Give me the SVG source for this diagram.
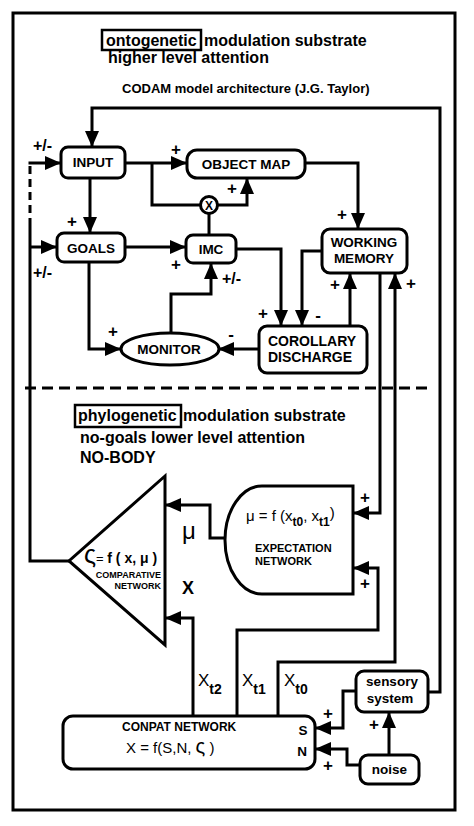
<svg xmlns="http://www.w3.org/2000/svg" width="474" height="826" viewBox="0 0 474 826">
<defs>
<marker id="ah" markerUnits="userSpaceOnUse" markerWidth="17" markerHeight="15" refX="16" refY="7" orient="auto"><path d="M0,0 L16,7 L0,14 Z" fill="#000"/></marker>
</defs>
<style>
text{font-family:"Liberation Sans",Arial,sans-serif;fill:#000}
.b{font-weight:bold}
.h{font-size:16px;font-weight:bold}
.lbl{font-size:13.5px;font-weight:bold;text-anchor:middle}
.sg{font-size:17px;font-weight:bold;text-anchor:middle}
.pm{font-size:16px;font-weight:bold}
.node{fill:#fff;stroke:#000;stroke-width:3}
.ln{fill:none;stroke:#000;stroke-width:3}
.ar{marker-end:url(#ah)}
.sm{font-size:11px;font-weight:bold}
</style>
<rect width="474" height="826" fill="#fff"/>
<rect x="13" y="13" width="442" height="797" fill="none" stroke="#000" stroke-width="3"/>

<g id="headings">
<rect x="102" y="30" width="99" height="20" fill="none" stroke="#000" stroke-width="2.5"/>
<text x="106" y="46" class="h">ontogenetic</text>
<text x="204" y="46" class="h">modulation substrate</text>
<text x="108" y="63" class="h">higher level attention</text>
<text x="122" y="93" font-size="13" class="b">CODAM model architecture (J.G. Taylor)</text>
<rect x="75" y="405" width="106" height="22" fill="none" stroke="#000" stroke-width="2.5"/>
<text x="78" y="421" class="h">phylogenetic</text>
<text x="183" y="421" class="h">modulation substrate</text>
<text x="80" y="443" class="h">no-goals lower level attention</text>
<text x="80" y="463" class="h">NO-BODY</text>
</g>

<line x1="25" y1="388" x2="428" y2="388" stroke="#000" stroke-width="3" stroke-dasharray="11,6"/>

<g id="connectors">
<path class="ln ar" d="M428,692 H440 V108 H92 V147"/>
<path class="ln" d="M69,561 H30 V226"/>
<path class="ln" d="M30,226 V166" stroke-dasharray="8,5"/>
<path class="ln ar" d="M28.5,163 H61"/>
<path class="ln ar" d="M30,247 H57"/>
<path class="ln ar" d="M90,178 V233"/>
<path class="ln ar" d="M125,163 H187"/>
<path class="ln" d="M152,163 V205 H200"/>
<path class="ln ar" d="M218,205 H247 V178"/>
<path class="ln" d="M209,235 V214"/>
<path class="ln ar" d="M125,247 H186"/>
<path class="ln ar" d="M305,163 H358 V229"/>
<path class="ln ar" d="M236,249 H281 V326"/>
<path class="ln ar" d="M322,251 H302 V326"/>
<path class="ln ar" d="M350,326 V273"/>
<path class="ln ar" d="M259,349 H218"/>
<path class="ln ar" d="M89,262 V349 H121"/>
<path class="ln ar" d="M171,333 V294 H211 V263"/>
<path class="ln ar" d="M380,273 V513 H353"/>
<path class="ln ar" d="M278,716 V662 H395 V273"/>
<path class="ln ar" d="M237,716 V630 H378 V568 H353"/>
<path class="ln ar" d="M193,716 V618 H165"/>
<path class="ln ar" d="M226,538 H210 V505 H165"/>
<path class="ln ar" d="M389,755 V712"/>
<path class="ln ar" d="M356,691 H343 V728 H315"/>
<path class="ln ar" d="M360,765 H347 V749 H315"/>
</g>

<g id="signs">
<text x="33" y="151" class="pm">+/-</text>
<text x="33" y="278" class="pm">+/-</text>
<text x="72" y="227" class="sg">+</text>
<text x="176" y="155" class="sg">+</text>
<text x="232" y="194" class="sg">+</text>
<text x="176" y="270" class="sg">+</text>
<text x="222" y="284" class="pm">+/-</text>
<text x="342" y="220" class="sg">+</text>
<text x="335" y="290" class="sg">+</text>
<text x="411" y="289" class="sg">+</text>
<text x="263" y="319" class="sg">+</text>
<text x="318" y="321" class="sg">-</text>
<text x="113" y="337" class="sg">+</text>
<text x="231" y="340" class="sg">-</text>
<text x="156" y="510" class="sg">-</text>
<text x="156" y="623" class="sg">+</text>
<text x="365" y="503" class="sg">+</text>
<text x="365" y="589" class="sg">+</text>
<text x="328" y="719" class="sg">+</text>
<text x="328" y="771" class="sg">+</text>
<text x="374" y="730" class="sg">+</text>
</g>

<g id="input"><rect x="61" y="147" width="64" height="31" rx="7" class="node"/><text x="93" y="167" class="lbl">INPUT</text></g>
<g id="goals"><rect x="57" y="233" width="68" height="29" rx="7" class="node"/><text x="91" y="253" class="lbl">GOALS</text></g>
<g id="objectmap"><rect x="187" y="150" width="118" height="28" rx="10" class="node"/><text x="246" y="169" class="lbl">OBJECT MAP</text></g>
<g id="mult"><circle cx="209" cy="205" r="8.5" class="node"/><text x="209" y="209.5" font-size="12" class="b" text-anchor="middle">X</text></g>
<g id="imc"><rect x="186" y="235" width="50" height="28" rx="7" class="node"/><text x="211" y="254" class="lbl" font-size="14">IMC</text></g>
<g id="wm"><rect x="322" y="229" width="85" height="44" rx="8" class="node"/><text x="364" y="247" class="lbl" font-size="14">WORKING</text><text x="364" y="263" class="lbl" font-size="14">MEMORY</text></g>
<g id="cd"><rect x="259" y="326" width="108" height="47" rx="8" class="node"/><text x="268" y="346" class="b" font-size="14">COROLLARY</text><text x="268" y="362" class="b" font-size="14">DISCHARGE</text></g>
<g id="monitor"><ellipse cx="170" cy="349" rx="49" ry="16" class="node"/><text x="169" y="354" class="lbl">MONITOR</text></g>

<g id="comparative">
<path d="M165,476 L69,561 L165,645 Z" class="node"/>
<text x="84" y="563"><tspan font-size="25">ς</tspan><tspan font-size="13">= </tspan><tspan font-size="14" class="b">f ( x, μ )</tspan></text>
<text x="161" y="578" class="b" font-size="9" text-anchor="end">COMPARATIVE</text>
<text x="161" y="589" class="b" font-size="9" text-anchor="end">NETWORK</text>
</g>
<text x="182" y="539" font-size="24">μ</text>
<text x="188" y="594" font-size="18" class="b" text-anchor="middle">X</text>

<g id="expectation">
<path d="M262,486 H353 V594 H262 A37,54 0 0 1 262,486 Z" class="node"/>
<text x="246" y="521" font-size="15">μ = f (x<tspan dy="5" font-size="12" class="b">t0</tspan><tspan dy="-5">, x</tspan><tspan dy="5" font-size="12" class="b">t1</tspan><tspan dy="-8">)</tspan></text>
<text x="255" y="552" class="sm">EXPECTATION</text>
<text x="255" y="565" class="sm">NETWORK</text>
</g>

<g id="xlabels">
<text x="198" y="686" font-size="17">X<tspan dy="8" font-size="14" class="b">t2</tspan></text>
<text x="242" y="686" font-size="17">X<tspan dy="8" font-size="14" class="b">t1</tspan></text>
<text x="284" y="686" font-size="17">X<tspan dy="8" font-size="14" class="b">t0</tspan></text>
</g>

<g id="conpat">
<rect x="63" y="716" width="252" height="53" rx="10" class="node"/>
<text x="122" y="731" font-size="12" class="b">CONPAT NETWORK</text>
<text x="126" y="753" font-size="15">X = f(S,N, <tspan font-size="20">ς</tspan> )</text>
<text x="303" y="735" class="lbl" font-size="13">S</text>
<text x="302" y="756" class="lbl" font-size="13">N</text>
</g>
<g id="sensory"><rect x="356" y="671" width="72" height="41" rx="8" class="node"/><text x="392" y="686" class="lbl" font-size="15">sensory</text><text x="390" y="703" class="lbl" font-size="15">system</text></g>
<g id="noise"><rect x="360" y="755" width="59" height="29" rx="8" class="node"/><text x="389.5" y="774" class="lbl" font-size="16">noise</text></g>
</svg>
